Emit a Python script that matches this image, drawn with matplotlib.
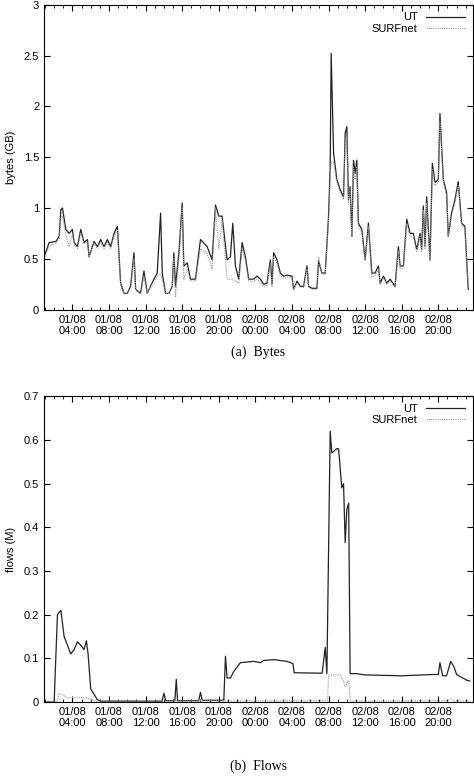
import matplotlib
matplotlib.use("Agg")
import matplotlib.pyplot as plt
from matplotlib.ticker import MultipleLocator

# hours since 01/08 00:00
bytes_t = [0.91,1.45,2.18,2.55,2.73,2.91,3.27,3.64,4.0,4.18,4.55,4.91,5.27,5.64,5.82,6.36,6.73,7.09,7.45,7.82,8.18,8.55,8.91,9.27,9.64,10.0,10.36,10.73,10.91,11.45,11.82,12.18,12.91,13.27,13.64,13.82,14.18,14.55,14.91,15.09,15.27,15.64,16.0,16.18,16.55,16.91,17.45,18.0,18.73,19.27,19.64,20.0,20.36,20.91,21.27,21.53,21.82,22.18,22.55,22.91,23.27,23.82,24.18,24.55,24.91,25.27,25.64,25.82,26.0,26.36,26.73,27.09,27.45,28.0,28.18,28.55,28.91,29.27,29.64,29.82,30.18,30.73,30.91,31.27,31.64,32.0,32.18,32.29,32.55,32.91,33.27,33.64,33.82,34.0,34.18,34.36,34.55,34.73,34.91,35.09,35.27,35.64,36.0,36.36,36.73,37.09,37.45,37.64,38.0,38.36,38.73,39.27,39.64,39.82,40.18,40.55,40.91,41.27,41.64,42.0,42.18,42.36,42.55,42.73,43.09,43.35,43.64,44.0,44.18,44.55,44.91,45.09,45.45,45.82,46.18,46.55,46.91,47.27]
bytes_ut = [0.52,0.66,0.67,0.72,0.98,1.00,0.79,0.75,0.79,0.66,0.62,0.79,0.66,0.69,0.52,0.67,0.62,0.69,0.62,0.69,0.62,0.75,0.82,0.26,0.16,0.16,0.23,0.56,0.20,0.16,0.38,0.16,0.30,0.36,0.95,0.36,0.16,0.16,0.23,0.56,0.23,0.56,1.05,0.43,0.46,0.30,0.30,0.69,0.62,0.49,1.03,0.92,0.92,0.49,0.52,0.85,0.43,0.30,0.66,0.52,0.30,0.30,0.33,0.30,0.25,0.26,0.49,0.25,0.56,0.49,0.36,0.33,0.34,0.33,0.20,0.28,0.23,0.23,0.43,0.23,0.21,0.21,0.48,0.36,0.36,0.92,1.41,2.52,1.54,1.28,1.18,1.11,1.74,1.80,1.08,1.21,0.72,1.47,1.34,1.47,0.85,0.79,0.49,0.85,0.36,0.36,0.43,0.26,0.33,0.26,0.30,0.23,0.62,0.43,0.43,0.89,0.75,0.75,0.59,0.75,0.59,1.02,0.62,1.11,0.49,1.44,1.25,1.28,1.93,1.28,1.15,0.72,0.95,1.08,1.26,0.85,0.82,0.20]
bytes_surf = [0.50,0.63,0.65,0.70,0.90,0.92,0.74,0.62,0.74,0.64,0.60,0.75,0.65,0.67,0.52,0.65,0.60,0.66,0.60,0.66,0.60,0.72,0.78,0.25,0.16,0.16,0.22,0.50,0.19,0.16,0.33,0.16,0.28,0.33,0.35,0.30,0.16,0.16,0.22,0.50,0.12,0.50,1.00,0.30,0.40,0.28,0.28,0.60,0.55,0.40,1.00,0.60,0.88,0.30,0.30,0.30,0.28,0.26,0.60,0.48,0.28,0.28,0.30,0.27,0.23,0.24,0.45,0.23,0.52,0.46,0.33,0.31,0.32,0.31,0.20,0.26,0.22,0.22,0.40,0.22,0.20,0.20,0.52,0.35,0.35,0.88,1.30,1.44,1.45,1.25,1.15,1.08,1.65,1.70,1.05,1.18,0.72,1.40,1.28,1.40,0.82,0.76,0.48,0.82,0.32,0.34,0.40,0.25,0.31,0.25,0.28,0.22,0.58,0.40,0.41,0.85,0.72,0.72,0.57,0.72,0.57,0.98,0.60,1.05,0.48,1.38,1.22,1.25,1.85,1.25,1.12,0.72,0.92,1.05,1.22,0.83,0.80,0.20]

flows_t_ut = [0.91,2.0,2.36,2.73,3.09,3.45,3.82,4.18,4.55,4.91,5.27,5.53,5.71,6.0,6.73,7.09,13.8,14.0,14.2,15.2,15.35,15.5,17.8,18.0,18.2,20.55,20.73,20.91,21.27,21.64,22.36,23.82,24.55,24.9,26.0,27.45,28.1,28.25,31.1,31.3,31.64,31.82,32.18,32.36,32.9,33.1,33.45,33.64,33.82,34.0,34.2,34.36,35.0,36.0,40.0,43.45,44.0,44.18,44.47,44.9,45.36,45.72,46.0,47.1,47.45]
flows_ut = [0.0,0.0,0.20,0.21,0.15,0.13,0.11,0.12,0.138,0.13,0.12,0.14,0.11,0.03,0.005,0.002,0.002,0.02,0.003,0.003,0.052,0.003,0.003,0.022,0.004,0.004,0.105,0.055,0.055,0.07,0.09,0.093,0.09,0.095,0.097,0.093,0.088,0.067,0.066,0.066,0.125,0.065,0.62,0.57,0.58,0.58,0.49,0.50,0.365,0.44,0.455,0.065,0.065,0.062,0.06,0.063,0.063,0.09,0.06,0.06,0.093,0.08,0.063,0.05,0.048]
flows_t_surf = [0.91,2.3,2.55,3.5,5.5,6.5,31.9,32.0,33.3,33.6,33.8,34.2,34.4,45.0,45.3,45.6,47.45]
flows_surf = [0.0,0.0,0.02,0.01,0.01,0.002,0.003,0.062,0.062,0.05,0.035,0.048,0.002,0.003,0.007,0.003,0.003]

tick_hours = [4,8,12,16,20,24,28,32,36,40,44]
tick_labels = ["01/08\n04:00","01/08\n08:00","01/08\n12:00","01/08\n16:00","01/08\n20:00",
               "02/08\n00:00","02/08\n04:00","02/08\n08:00","02/08\n12:00","02/08\n16:00","02/08\n20:00"]

plt.rcParams['font.family'] = ['Liberation Sans', 'DejaVu Sans']
plt.rcParams['font.size'] = 8
fig = plt.figure(figsize=(4.74, 7.8), dpi=100)
ax1 = fig.add_axes([0.093, 0.603, 0.905, 0.391])
ax2 = fig.add_axes([0.093, 0.100, 0.905, 0.392])

def style(ax):
    ax.set_xlim(0.9, 47.8)
    ax.set_xticks(tick_hours)
    ax.set_xticklabels(tick_labels)
    ax.xaxis.set_minor_locator(MultipleLocator(1))
    ax.tick_params(direction='in', top=True, right=True, length=4, labelsize=8)
    ax.tick_params(which='minor', direction='in', top=True, length=2)
    ax.legend(loc='upper right', frameon=False, markerfirst=False, fontsize=8,
              handlelength=3.5, borderaxespad=0.3, labelspacing=0.1)

ax1.plot(bytes_t, bytes_ut, color='#222222', lw=0.9, label='UT')
ax1.plot(bytes_t, bytes_surf, color='#999999', lw=0.8, ls=(0, (1, 1)), label='SURFnet')
ax1.set_ylim(0, 3)
ax1.set_yticks([0, 0.5, 1, 1.5, 2, 2.5, 3])
ax1.set_yticklabels(['0', '0.5', '1', '1.5', '2', '2.5', '3'])
ax1.set_ylabel('bytes (GB)', labelpad=6)
style(ax1)

ax2.plot(flows_t_ut, flows_ut, color='#222222', lw=0.9, label='UT')
ax2.plot(flows_t_surf, flows_surf, color='#999999', lw=0.8, ls=(0, (1, 1)), label='SURFnet')
ax2.set_ylim(0, 0.7)
ax2.set_yticks([0, 0.1, 0.2, 0.3, 0.4, 0.5, 0.6, 0.7])
ax2.set_yticklabels(['0', '0.1', '0.2', '0.3', '0.4', '0.5', '0.6', '0.7'])
ax2.set_ylabel('flows (M)', labelpad=6)
style(ax2)

fig.text(0.545, 0.548, '(a)  Bytes', ha='center', va='center', family='Liberation Serif', fontsize=10)
fig.text(0.545, 0.017, '(b)  Flows', ha='center', va='center', family='Liberation Serif', fontsize=10)
fig.savefig('out.png', dpi=100)
